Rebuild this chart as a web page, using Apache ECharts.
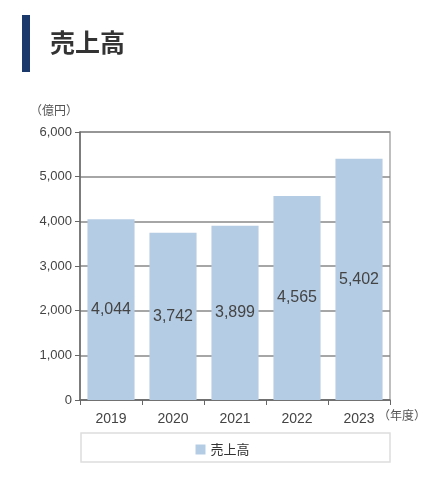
<!DOCTYPE html>
<html><head><meta charset="utf-8">
<script src="https://cdn.jsdelivr.net/npm/echarts@6/dist/echarts.min.js"></script>
<style>html,body{margin:0;background:#fff}#c{width:445px;height:477px}</style>
</head><body><div id="c"></div>
<script>
const years = ['2019', '2020', '2021', '2022', '2023'];
const sales = [4044, 3742, 3899, 4565, 5402];
const seriesName = '売上高';

const chart = echarts.init(document.getElementById('c'));
const font = '"Liberation Sans", Arial, "Noto Sans CJK JP", sans-serif';
chart.setOption({
  backgroundColor: '#fff',
  textStyle: { fontFamily: font },
  graphic: [
    { type: 'rect', shape: { x: 22, y: 15, width: 8, height: 57 }, style: { fill: '#1b3a6b' } },
    { type: 'text', left: 50, top: 30, style: { text: '売上高', fontSize: 25, fontWeight: 'bold', fill: '#333', fontFamily: '"Noto Sans CJK JP", sans-serif' } },
    { type: 'rect', shape: { x: 81, y: 433, width: 309, height: 29 }, style: { fill: '#fff', stroke: '#ddd', lineWidth: 1.5 } },
    { type: 'text', left: 30, top: 104, style: { text: '（億円）', fontSize: 12, fill: '#555', fontFamily: '"Noto Sans CJK JP", sans-serif' } },
    { type: 'text', left: 378, top: 409, style: { text: '（年度）', fontSize: 12, fill: '#555', fontFamily: '"Noto Sans CJK JP", sans-serif' } }
  ],
  grid: { left: 80, right: 55, top: 132, bottom: 77, show: true, borderColor: '#aaa', borderWidth: 1.5 },
  legend: {
    data: [seriesName], top: 438, left: 'center', icon: 'rect', itemWidth: 10, itemHeight: 10,
    textStyle: { fontSize: 13, color: '#333', fontFamily: '"Noto Sans CJK JP", sans-serif' }
  },
  xAxis: {
    type: 'category', data: years,
    axisLine: { lineStyle: { color: '#666', width: 1.5 } },
    axisTick: { show: true, length: 5, lineStyle: { color: '#666' } },
    axisLabel: { fontSize: 14, color: '#444', margin: 12 }
  },
  yAxis: {
    type: 'value', min: 0, max: 6000, interval: 1000,
    axisLine: { show: true, lineStyle: { color: '#666', width: 1.5 } },
    axisTick: { show: true, length: 5, lineStyle: { color: '#666' } },
    splitLine: { lineStyle: { color: '#888', width: 1.5 } },
    axisLabel: { fontSize: 13, color: '#444', formatter: v => v.toLocaleString('en-US') }
  },
  series: [{
    name: seriesName, type: 'bar', data: sales, barCategoryGap: '24%',
    itemStyle: { color: '#b4cce4' },
    label: { show: true, position: 'inside', fontSize: 16, color: '#444', formatter: p => p.value.toLocaleString('en-US') }
  }]
});
</script></body></html>
